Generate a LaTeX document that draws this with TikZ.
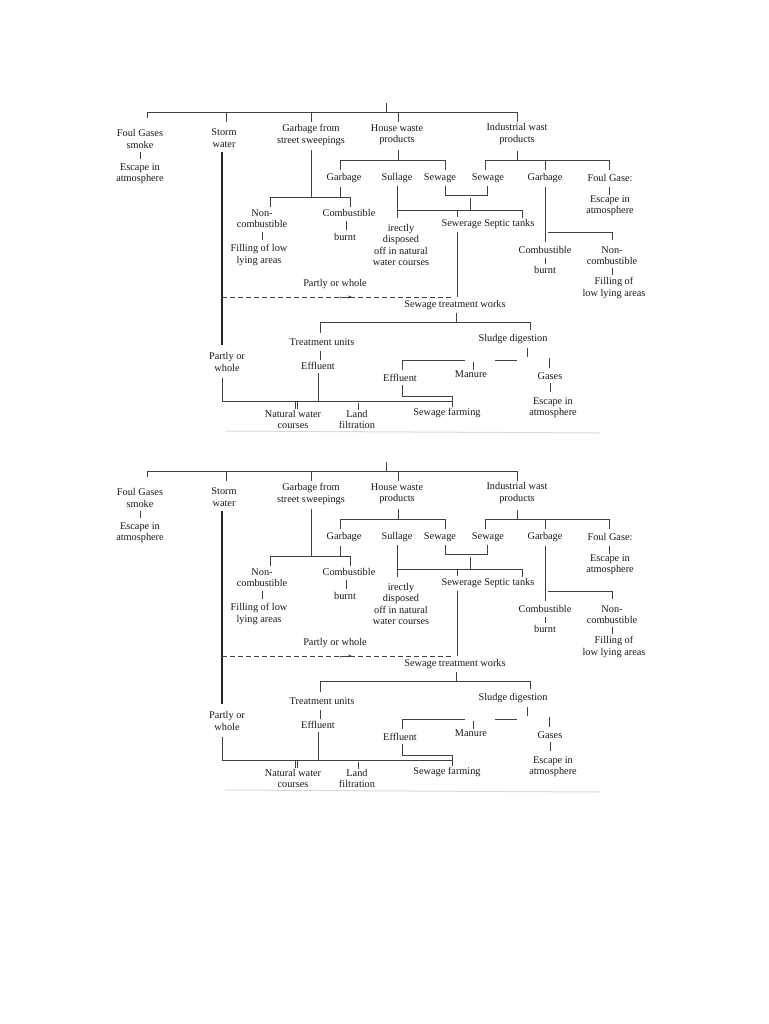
\documentclass[tikz,border=0pt]{standalone}
\usepackage{fontspec}
\setmainfont{Liberation Serif}
\usetikzlibrary{arrows.meta}
\tikzset{
 t/.style={font=\fontsize{10.3}{11.3}\selectfont,align=center,inner sep=0pt,text=black!90},
 ln/.style={draw=black!75,line width=0.6pt},
 thick2/.style={draw=black!85,line width=1.1pt},
 pics/waste/.style={code={
  % top
  \draw[ln] (386,103)--(386,112);
  \draw[ln] (147,118)--(147,112)--(517,112)--(517,122);
  \foreach \x in {226,311,398}{\draw[ln] (\x,112)--(\x,122);}
  \node[t] (fg) at (140,139) {Foul Gases\\smoke};
  \draw[ln] (140,152)--(140,159);
  \node[t] (fge) at (140,174) {Escape in\\atmosphere};
  \node[t] (sw) at (224,138) {Storm\\water};
  \draw[thick2] (222,152)--(222,345);
  \node[t] (pw) at (227,362) {Partly or\\whole};
  \draw[ln] (222,378)--(222,401)--(452,401);
  \node[t] (gs) at (311,135) {Garbage from\\street sweepings};
  \draw[ln] (311,150)--(311,197);
  \draw[ln] (270,207)--(270,197)--(350,197)--(350,207);
  \node[t] (hw) at (397,135) {House waste\\products};
  \draw[ln] (398,150)--(398,160);
  \draw[ln] (340,170)--(340,160)--(445,160)--(445,170);
  \node[t] (g1) at (344,178) {Garbage};
  \draw[ln] (340,187)--(340,197);
  \node[t] (nc1) at (262,219) {Non-\\combustible};
  \draw[ln] (262,232)--(262,240);
  \node[t] (fl1) at (259,255) {Filling of low\\lying areas};
  \node[t] (cb1) at (349,213) {Combustible};
  \draw[ln] (346,221)--(346,230);
  \node[t] (bt1) at (345,237) {burnt};
  \node[t] (sl) at (397,178) {Sullage};
  \draw[ln] (397,186)--(397,218);
  \draw[ln] (397,210)--(522,210)--(522,218);
  \draw[ln] (457,210)--(457,217);
  \node[t] (sh) at (440,178) {Sewage};
  \node[t] (si) at (488,178) {Sewage};
  \draw[ln] (445,186)--(445,195)--(487,195)--(487,186);
  \draw[ln] (470,198)--(470,210);
  \node[t] (dd) at (401,245) {irectly\\disposed\\off in natural\\water courses};
  \node[t] (sst) at (488,224) {Sewerage Septic tanks};
  \draw[ln] (457,232)--(457,297);
  \draw[ln,dashed,dash pattern=on 5pt off 3pt] (222,297)--(453,297);
  \draw[ln,-{Stealth[length=4pt,width=3pt]}] (340,297)--(352,297);
  \node[t] (pw2) at (335,284) {Partly or whole};
  \node[t] (iw) at (517,134) {Industrial wast\\products};
  \draw[ln] (517,151)--(517,160);
  \draw[ln] (485,170)--(485,160)--(609,160)--(609,170);
  \draw[ln] (545,160)--(545,170);
  \node[t] (g2) at (545,178) {Garbage};
  \draw[ln] (545,187)--(545,242);
  \draw[ln] (548,232)--(612,232)--(612,240);
  \node[t] (cb2) at (545,250) {Combustible};
  \draw[ln] (545,258)--(545,264);
  \node[t] (bt2) at (545,270) {burnt};
  \node[t] (fg2) at (610,178) {Foul Gase:};
  \draw[ln] (609,187)--(609,195);
  \node[t] (fge2) at (610,206) {Escape in\\atmosphere};
  \node[t] (nc2) at (612,256) {Non-\\combustible};
  \draw[ln] (612,268)--(612,275);
  \node[t] (fl2) at (614,288) {Filling of\\low lying areas};
  % treatment
  \node[t] (stw) at (455,305) {Sewage treatment works};
  \draw[ln] (456,313)--(456,322);
  \draw[ln] (320,333)--(320,322)--(530,322)--(530,330);
  \node[t] (tu) at (322,342) {Treatment units};
  \node[t] (sd) at (513,339) {Sludge digestion};
  \draw[ln] (320,351)--(320,360);
  \node[t] (ef1) at (318,366) {Effluent};
  \draw[ln] (318,373)--(318,401);
  \draw[ln] (527,348)--(527,357);
  \draw[ln] (402,370)--(402,360)--(465,360);
  \draw[ln] (495,360)--(517,360);
  \draw[ln] (473,362)--(473,370);
  \draw[ln] (549,358)--(549,368);
  \node[t] (ef2) at (400,378) {Effluent};
  \node[t] (mn) at (471,374) {Manure};
  \node[t] (gas) at (550,376) {Gases};
  \draw[ln] (402,385)--(402,396)--(452,396)--(452,407);
  \draw[ln] (550,383)--(550,392);
  \node[t] (gase) at (553,408) {Escape in\\atmosphere};
  \draw[ln] (295,401)--(295,409);\draw[ln] (297.5,401)--(297.5,409);
  \draw[ln] (358,403)--(358,410);
  \node[t] (nwc) at (293,419.5) {Natural water\\courses};
  \node[t] (lf) at (357,419.5) {Land\\filtration};
  \node[t] (sf) at (447,413) {Sewage farming};
  \draw[black!15,line width=1pt] (225,431)--(600,433);
 }}
}
\begin{document}
\begin{tikzpicture}[x=1pt,y=-1pt]
\useasboundingbox (0,0) rectangle (768,1024);
\fill[white] (0,0) rectangle (768,1024);
\pic (a) at (0,0) {waste};
\pic (b) at (0,359) {waste};
\end{tikzpicture}
\end{document}
